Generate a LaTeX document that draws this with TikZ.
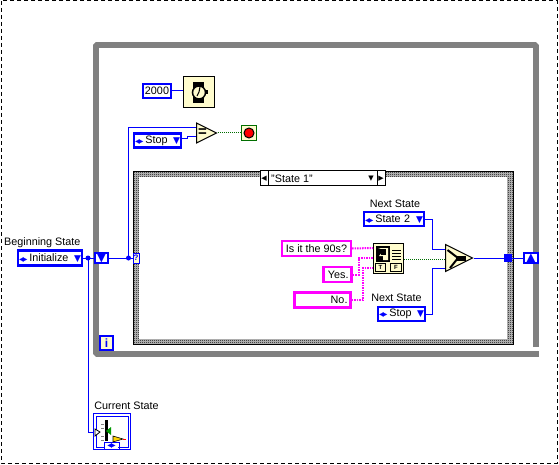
\documentclass[tikz,border=0pt]{standalone}
\usepackage{fontspec}
\setmainfont{Liberation Sans}
\newfontfamily\symfont{DejaVu Sans}
\usepackage{xcolor}
\usepackage{tikz}
\usetikzlibrary{patterns, shapes.geometric}
\definecolor{lvblue}{RGB}{0,0,255}
\definecolor{lvpink}{RGB}{255,0,255}
\definecolor{lvgray}{RGB}{128,128,128}
\definecolor{lvpale}{RGB}{255,252,205}
\definecolor{lvgreen}{RGB}{0,110,0}
\pgfdeclarepatternformonly{lvhatch}{\pgfqpoint{0pt}{0pt}}{\pgfqpoint{2pt}{2pt}}{\pgfqpoint{2pt}{2pt}}{%
  \pgfpathrectangle{\pgfqpoint{0pt}{0pt}}{\pgfqpoint{1pt}{1pt}}%
  \pgfpathrectangle{\pgfqpoint{1pt}{1pt}}{\pgfqpoint{1pt}{1pt}}%
  \pgfusepath{fill}}
\newcommand{\updn}{{\symfont\fontsize{6}{6}\selectfont\textcolor{lvblue}{◀\kern-0.8pt▶}}}
\newcommand{\dnarrow}{{\symfont\fontsize{9}{9}\selectfont\textcolor{lvblue}{▼}}}

\begin{document}
\begin{tikzpicture}[x=1pt, y=-1pt, every node/.style={font=\fontsize{10.8}{11}\selectfont, inner sep=0pt},
    wire/.style={draw=lvblue, line width=1pt},
    boolwire/.style={draw=lvgreen, line width=1pt, dash pattern=on 1pt off 1pt},
    strwire/.style={draw=lvpink, line width=2pt, dash pattern=on 1.5pt off 1pt},
    enumbox/.style={draw=lvblue, line width=2.3pt, fill=white, minimum height=14pt, inner xsep=1pt, text width=#1, align=left},
    strbox/.style={draw=lvpink, line width=2.3pt, fill=white, minimum height=15pt},
    regbox/.style={draw=lvblue, line width=2.3pt, fill=white, minimum width=13pt, minimum height=10pt},
    dotnode/.style={circle, fill=lvblue, minimum size=5pt},
    funcbox/.style={draw=black, line width=1pt, fill=lvpale},
    functri/.style={isosceles triangle, isosceles triangle stretches, shape border rotate=0, draw=black, line width=1pt, fill=lvpale}]
  \useasboundingbox (0,0) rectangle (559,465);
  \draw[black, line width=1pt, dash pattern=on 4pt off 3pt] (1,1) rectangle (557,463);

  % while loop
  \draw[lvgray, line width=6pt, line join=bevel] (536,347) -- (536,45) -- (96,45) -- (96,354) -- (539,354);

  % case structure
  \node[draw=black, line width=1pt, preaction={fill=gray!45}, pattern=lvhatch, minimum width=380pt, minimum height=173pt] (caseframe) at (323,258) {};
  \node[fill=white, minimum width=368pt, minimum height=161pt] (caseinner) at (323,258) {};
  \node[draw=black, line width=1pt, fill=white, minimum width=125pt, minimum height=15pt] (selector) at (322.5,178.5) {};
  \node[anchor=west] (selname) at (271,178.5) {"State 1"};
  \draw[black, line width=1pt] (268,171) -- (268,186) (377,171) -- (377,186);
  \node[font=\symfont\fontsize{7}{7}\selectfont] (selleft) at (264,178.5) {◀};
  \node[font=\symfont\fontsize{7}{7}\selectfont] (seldown) at (371,178.5) {▼};
  \node[font=\symfont\fontsize{7}{7}\selectfont] (selright) at (381,178.5) {▶};

  % timing
  \node[draw=lvblue, line width=2.3pt, fill=white, minimum width=28pt, minimum height=14pt] (waitms) at (157,91) {2000};
  \node[funcbox, minimum width=31pt, minimum height=31pt] (waitfn) at (199,92) {};
  \draw[wire] (waitms.east) -- (waitfn.west |- waitms.east);
  \fill[black] (193,82) rectangle (204,103);
  \fill[black] (206,90) rectangle (208,94);
  \draw[black, fill=lvpale, line width=1.5pt] (199,92.5) circle (6.5);
  \draw[black, line width=1pt] (199,92) -- (200,87) (199,92) -- (197,96);

  % stop check
  \node[enumbox=45pt] (stopcheck) at (157.5,140.5) {\updn\kern2pt Stop\hfill\dnarrow};
  \node[functri, minimum height=20pt, minimum width=20pt, anchor=lower side] (eqfn) at (196,133) {};
  \node[font=\bfseries\fontsize{15}{15}\selectfont] (eqsign) at (202.5,132.5) {=};
  \node[draw=lvgreen, line width=1pt, fill=lvpale, minimum width=15pt, minimum height=15pt] (stopnode) at (249,133) {};
  \draw[black, fill=red, line width=1pt] (249,133) circle (5);
  \coordinate (eqtop) at (196,128);
  \coordinate (eqbot) at (196,137);
  \coordinate (eqbend) at (187,139);
  \draw[boolwire] (eqfn.apex) -- (stopnode.west);
  \draw[wire] (stopcheck.east |- eqbend) -- (eqbend) |- (eqbot);

  % inputs at the left
  \node[anchor=west] (beginlabel) at (4,243) {Beginning State};
  \node[enumbox=62pt, minimum height=15pt] (initenum) at (50,258) {\updn\kern2pt Initialize\hfill\dnarrow};
  \node[regbox, font=\symfont\fontsize{12}{12}\selectfont\color{lvblue}] (srleft) at (101.5,258) {▼};
  \node[draw=lvblue, line width=1pt, fill=lvpale, minimum width=6pt, minimum height=10pt, font=\bfseries\fontsize{8}{8}\selectfont\color{lvblue}] (selterm) at (136,258) {?};
  \node[dotnode] (dotleft) at (88,258) {};
  \node[dotnode] (dotcase) at (128.5,258) {};
  \coordinate (indin) at (97,432);
  \draw[wire] (initenum.east) -- (srleft.west);
  \draw[wire] (srleft.east) -- (selterm.west);
  \draw[wire] (dotleft.center) |- (indin);
  \draw[wire] (dotcase.center) |- (eqtop);

  \node[draw=lvblue, line width=2.3pt, fill=lvpale, minimum width=13pt, minimum height=14pt, font=\bfseries\fontsize{12}{12}\selectfont\color{lvblue}] (iternode) at (106.5,343) {i};

  % dialog inputs
  \node[strbox, minimum width=69pt] (strq) at (316.5,248.5) {Is it the 90s?};
  \node[strbox, inner xsep=3pt, text width=22pt, align=right] (stryes) at (337.5,274.5) {Yes.};
  \node[strbox, inner xsep=3pt, text width=50pt, align=right] (strno) at (322.5,300) {No.};
  \foreach \s in {strq, stryes, strno}
    \fill[lvpink] (\s.north west) rectangle ([xshift=2pt]\s.south west);

  \node[funcbox, minimum width=30pt, minimum height=30pt] (dialogfn) at (388.5,258.5) {};
  \fill[black] (376,246) rectangle (390,262);
  \fill[lvpale] (378,248) -- (388,248) -- (388,260) -- (383,260) -- (383,256) -- (379,256) -- (384,250) -- cycle;
  \fill[black] (381,249) rectangle (386,255);
  \draw[black, line width=0.8pt] (392,250) -- (401,250) (392,253) -- (401,253) (392,256) -- (401,256) (392,259) -- (401,259);
  \node[draw=black, line width=1pt, minimum width=10pt, minimum height=8pt, font=\bfseries\fontsize{6}{6}\selectfont] (tbtn) at (380.5,267) {T};
  \node[draw=black, line width=1pt, minimum width=11pt, minimum height=8pt, font=\bfseries\fontsize{6}{6}\selectfont] (fbtn) at (396,267) {F};
  \coordinate (inq) at (373,248);
  \coordinate (inyes) at (373,258);
  \coordinate (inno) at (373,268);
  \coordinate (yesbend) at (359,274.5);
  \coordinate (nobend) at (363,300);
  \draw[strwire] (strq.east) -- (inq);
  \draw[strwire] (stryes.east) -- (yesbend) |- (inyes);
  \draw[strwire] (strno.east) -- (nobend) |- (inno);

  % select
  \node (nextlabela) at (395,204) {Next State};
  \node[enumbox=58pt] (nextenum) at (394,219) {\updn\kern2pt State 2\hfill\dnarrow};
  \node (nextlabelb) at (396.5,298) {Next State};
  \node[enumbox=45pt] (stopenum) at (401.5,314) {\updn\kern2pt Stop\hfill\dnarrow};
  \node[functri, minimum height=27pt, minimum width=27pt, anchor=lower side] (selfn) at (445,258) {};
  \fill[black] (456,256) rectangle (466,260.5);
  \draw[black, line width=2pt] (447.5,250) -- (458,258) -- (450,268);
  \coordinate (seltop) at (445,249);
  \coordinate (selbot) at (445,268);
  \coordinate (selmid) at (445,259);
  \draw[wire] (nextenum.east) -| (432,249) -- (seltop);
  \draw[wire] (stopenum.east) -| (432,268) -- (selbot);
  \draw[boolwire] (dialogfn.east |- selmid) -- (selmid);

  % output
  \node[fill=lvblue, minimum width=8pt, minimum height=8pt] (tunnel) at (508,258) {};
  \node[regbox, minimum width=14pt, font=\symfont\fontsize{12}{12}\selectfont\color{lvblue}] (srright) at (531,258) {▲};
  \draw[wire] (selfn.apex) -- (tunnel.west);
  \draw[wire] (tunnel.east) -- (srright.west);

  % indicator
  \node (curlabel) at (126.5,406) {Current State};
  \node[draw=lvblue, line width=1pt, fill=white, minimum width=37pt, minimum height=36pt] (curstate) at (112,431.5) {};
  \draw[lvblue, line width=1pt] (96,416) rectangle (128,447);
  \fill[white] (105,443) rectangle (118,449);
  \draw[lvblue, line width=1pt] (104,449.5) -- (104,442) -- (119,442) -- (119,449.5);
  \node[font=\symfont\fontsize{6}{6}\selectfont\color{lvblue}] (curarrows) at (111.5,446) {◀\kern-0.8pt▶};
  \fill[black] (105,420) rectangle (108,441);
  \foreach \y in {424,428,436,440}
    \draw[gray, line width=0.8pt] (101,\y) -- (104,\y);
  \fill[green!60!black] (106,431) -- (111,427) -- (111,435) -- cycle;
  \draw[black, line width=0.6pt, fill=yellow!70!orange] (113,436) -- (113,442) -- (123,439) -- cycle;
  \draw[red, line width=0.8pt] (123,439) -- (126,439);
  \draw[black, line width=0.8pt, fill=white] (95,429) -- (100,432) -- (95,436) -- cycle;
\end{tikzpicture}
\end{document}
